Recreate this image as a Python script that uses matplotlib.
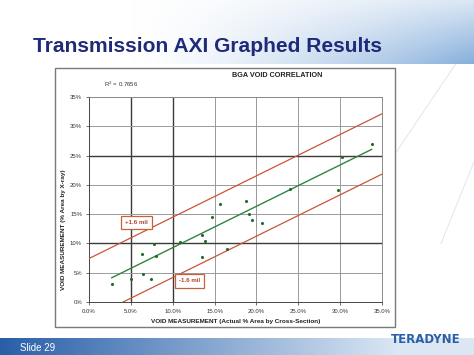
import numpy as np
import matplotlib
matplotlib.use("Agg")
import matplotlib.pyplot as plt
from matplotlib.patches import Rectangle, Arc

# ---------------- data ----------------
x_actual = [2.72, 5.0, 6.28, 6.44, 7.36, 7.8, 8.04, 10.92, 13.44, 13.48, 13.84,
            14.68, 15.6, 16.52, 18.76, 19.12, 19.52, 20.64, 24.04, 29.72, 30.24, 33.76]
y_xray = [3.02, 3.93, 8.25, 4.84, 3.87, 9.96, 7.9, 10.19, 11.44, 7.68, 10.47,
          14.57, 16.73, 8.99, 17.30, 14.97, 13.94, 13.55, 19.29, 19.12, 24.81, 27.03]
trend_slope = 0.706
trend_intercept = 2.22
band_upper = 5.2
band_lower = -5.1
x_ticks = [0, 5, 10, 15, 20, 25, 30, 35]
y_ticks = [0, 5, 10, 15, 20, 25, 30, 35]
x_tick_labels = ["0.0%", "5.0%", "10.0%", "15.0%", "20.0%", "25.0%", "30.0%", "35.0%"]
y_tick_labels = ["0%", "5%", "10%", "15%", "20%", "25%", "30%", "35%"]
r2_text = "R$^2$ = 0.7656"

W, H = 474, 355
plt.rcParams['font.family'] = ['Liberation Sans', 'DejaVu Sans']
fig = plt.figure(figsize=(W / 100, H / 100), dpi=100)

# ---------------- slide background ----------------
bg = fig.add_axes([0, 0, 1, 1])
bg.set_xlim(0, W)
bg.set_ylim(H, 0)
bg.axis('off')

img = np.ones((H, W, 3))
xx = np.arange(W)[None, :]
yy = np.arange(H)[:, None]
blue = np.array([0.52, 0.68, 0.86])
ax_a = np.clip((xx - 130) / (W - 130), 0, 1) ** 1.4
ay = np.where(yy < 64, np.clip(0.3 + yy / 64 * 0.7, 0, 1), 0.0)
alpha = (ax_a * ay)[:, :, None]
img = img * (1 - alpha) + blue[None, None, :] * alpha
dark = np.array([0.16, 0.37, 0.66])
light = np.array([0.86, 0.91, 0.96])
t = np.clip(xx / 400.0, 0, 1)[:, :, None]
bar = dark * (1 - t) + light * t
mask = (yy >= 338)
img = np.where(mask[:, :, None], np.broadcast_to(bar, (H, W, 3)), img)
bg.imshow(img, extent=[0, W, H, 0], aspect='auto', zorder=0)

# faint globe pattern (right side, below the title band)
clip = Rectangle((380, 64), 100, 180, transform=bg.transData)
cx, cy = 600, -150
for r in [225, 270, 320]:
    a = Arc((cx, cy), 2 * r, 2 * r * 0.95, theta1=190, theta2=270,
            color='#dfe3e9', lw=0.8, zorder=1)
    bg.add_patch(a)
    a.set_clip_path(clip)
for ang in [212, 224, 236, 248, 260]:
    a = np.deg2rad(ang)
    ln, = bg.plot([cx + 200 * np.cos(a), cx + 450 * np.cos(a)],
                  [cy - 200 * np.sin(a), cy - 450 * np.sin(a)],
                  color='#e2e5ea', lw=0.7, zorder=1)
    ln.set_clip_path(clip)

bg.text(33, 51.5, "Transmission AXI Graphed Results", fontsize=15.1,
        fontweight='bold', color='#1f2a78', ha='left', va='baseline', zorder=3)
bg.text(20, 351, "Slide 29", fontsize=7, color='white', ha='left',
        va='baseline', zorder=3)
bg.text(426, 343, "TERADYNE", fontsize=8.5, fontweight='bold', color='#2a5fa8',
        ha='center', va='baseline', zorder=3, family='DejaVu Sans')

# chart panel
bg.add_patch(Rectangle((55, 68), 340, 259, facecolor='white',
                       edgecolor='#7a7a7a', lw=1.0, zorder=2))
bg.text(277, 75.5, "BGA VOID CORRELATION", fontsize=5.2, fontweight='bold',
        color='#222222', ha='center', va='center', zorder=3)
bg.text(104, 84.5, r2_text, fontsize=4.3, color='#333333', ha='left',
        va='center', zorder=3)
bg.text(63.5, 230, "VOID MEASUREMENT (% Area by X-ray)", fontsize=4.6,
        fontweight='bold', color='#222222', rotation=90, ha='center',
        va='center', zorder=3)
bg.text(236, 321, "VOID MEASUREMENT (Actual % Area by Cross-Section)",
        fontsize=4.6, fontweight='bold', color='#222222', ha='center',
        va='center', zorder=3)

# ---------------- chart ----------------
x0, x1, y0, y1 = 89, 382, 302, 97
ax = fig.add_axes([x0 / W, 1 - y0 / H, (x1 - x0) / W, (y0 - y1) / H])
ax.set_zorder(5)
ax.patch.set_alpha(0)
ax.set_xlim(0, 35)
ax.set_ylim(0, 35)
ax.set_xticks(x_ticks)
ax.set_yticks(y_ticks)
ax.set_xticklabels(x_tick_labels, fontsize=4.3, color='#333333')
ax.set_yticklabels(y_tick_labels, fontsize=4.3, color='#333333')
ax.tick_params(length=2, width=0.6, pad=3, color='#555555')
for s in ax.spines.values():
    s.set_color('#8a8a8a')
    s.set_linewidth(0.7)
ax.spines['left'].set_color('#444444')
ax.spines['bottom'].set_color('#444444')

dark_x = [5, 10]
dark_y = [10, 25]
for v in x_ticks[1:]:
    c, lw = ('#3a3a3a', 1.0) if v in dark_x else ('#9a9a9a', 0.7)
    ax.axvline(v, color=c, lw=lw, zorder=1)
for v in y_ticks[1:]:
    c, lw = ('#3a3a3a', 1.0) if v in dark_y else ('#9a9a9a', 0.7)
    ax.axhline(v, color=c, lw=lw, zorder=1)

xa = np.array(x_actual)
xt = np.array([xa.min(), xa.max()])
ax.plot(xt, trend_slope * xt + trend_intercept, color='#2e8540', lw=1.0, zorder=3)
xb = np.array([0, 35])
ax.plot(xb, trend_slope * xb + trend_intercept + band_upper, color='#c8553a', lw=0.9, zorder=3)
xl0 = -(trend_intercept + band_lower) / trend_slope
xbl = np.array([xl0, 35])
ax.plot(xbl, trend_slope * xbl + trend_intercept + band_lower, color='#c8553a', lw=0.9, zorder=3)

ax.scatter(x_actual, y_xray, s=5, color='#1f6b2c', zorder=4, linewidths=0)

box = dict(boxstyle='square,pad=0.7', facecolor='white', edgecolor='#c8603a', lw=0.9)
ax.text(5.65, 13.6, "+1.6 mil", fontsize=4.4, fontweight='bold', color='#b5452e',
        ha='center', va='center', bbox=box, zorder=6)
ax.text(12.0, 3.6, "-1.6 mil", fontsize=4.4, fontweight='bold', color='#b5452e',
        ha='center', va='center', bbox=box, zorder=6)

fig.savefig("out.png", dpi=100)
